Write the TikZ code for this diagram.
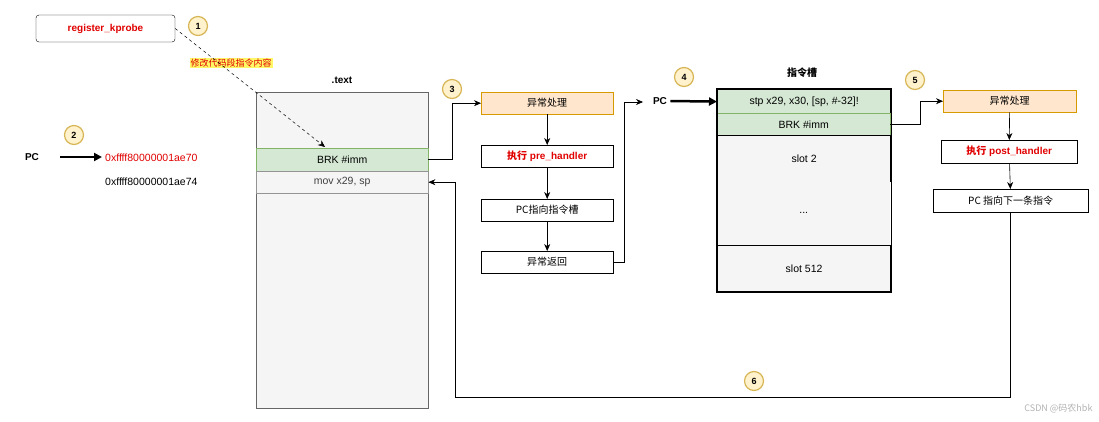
\documentclass[tikz,border=0pt]{standalone}
\usepackage{fontspec}
\setmainfont{Liberation Sans}
\newfontfamily\cjk{Noto Sans CJK SC}
\usetikzlibrary{arrows.meta}
\definecolor{grf}{HTML}{F5F5F5}
\definecolor{grd}{HTML}{666666}
\definecolor{gnf}{HTML}{D5E8D4}
\definecolor{gnd}{HTML}{82B366}
\definecolor{orf}{HTML}{FFE6CC}
\definecolor{ord}{HTML}{D79B00}
\definecolor{ylf}{HTML}{FFF2CC}
\definecolor{yld}{HTML}{D6B656}
\definecolor{rd}{HTML}{E00000}
\begin{document}
\begin{tikzpicture}[x=1pt,y=-1pt,font=\fontsize{10.5}{12}\selectfont,
  bx/.style={draw,minimum width=#1,minimum height=22,inner sep=0,anchor=north west},
  bx/.default=132,
  num/.style={circle,draw=yld,fill=ylf,line width=1.2pt,inner sep=0,minimum size=19,font=\bfseries\small},
  arr/.style={-{Stealth[length=7,width=6]},line width=0.6pt},
  fat/.style={-{Triangle[length=8,width=8]},line width=2.5pt}]
\useasboundingbox (0,0) rectangle (1099,422);
% kprobe
\node[draw,rounded corners=3,minimum width=139,minimum height=27,inner sep=0,font=\bfseries,text=rd] (kp) at (105.5,28.5) {register\_kprobe};
\node[num] (n1) at (198,26) {1};
\node[fill=yellow!60,text=rd,inner sep=1,font=\cjk\small] (lbl) at (231,63) {修改代码段指令内容};
% .text
\node[font=\bfseries] (tt) at (342,80) {.text};
\node[draw=grd,fill=grf,minimum width=172,minimum height=316,anchor=north west,inner sep=0] (text) at (256,92) {};
\node[bx=172,draw=gnd,fill=gnf,minimum height=23] (brk) at (256,148) {BRK \#imm};
\node[bx=172,draw=grd!70,fill=grf,text=black!75,minimum height=22] (mov) at (256,171) {mov x29, sp};
\coordinate (dtip) at (325,147);
\draw[dashed,arr,line width=0.5pt] (kp.east) -- (dtip);
% PC 1
\node[font=\bfseries] (pc1) at (32,157) {PC};
\coordinate (pa) at (60,157); \coordinate (pb) at (102,157);
\draw[fat] (pa) -- (pb);
\node[num] (n2) at (74,135) {2};
\node[text=rd,anchor=west,inner sep=0] (ad1) at (105,158) {0xffff80000001ae70};
\node[anchor=west,inner sep=0] (ad2) at (105,182) {0xffff80000001ae74};
% exception 1
\node[num] (n3) at (452,89) {3};
\node[bx,draw=ord,fill=orf,font=\cjk] (e1) at (481,92) {异常处理};
\node[bx,font=\bfseries,text=rd] (e2) at (481,145) {{\cjk 执行} pre\_handler};
\node[bx,font=\cjk] (e3) at (481,199) {PC指向指令槽};
\node[bx,font=\cjk] (e4) at (481,251) {异常返回};
\draw[arr] (brk.east) -- ++(24,0) |- (e1.west);
\draw[arr] (e1) -- (e2); \draw[arr] (e2) -- (e3); \draw[arr] (e3) -- (e4);
\coordinate (pc2in) at (643,102);
\draw[arr] (e4.east) -- ++(11,0) |- (pc2in);
\node[font=\bfseries] (pc2) at (660,101) {PC};
\node[num] (n4) at (684,77) {4};
% slots
\node[font=\cjk\bfseries] (st) at (802,73) {指令槽};
\node[bx=173,draw=black,line width=1.2pt,fill=gnf,minimum height=24] (s0) at (717,89) {stp x29, x30, [sp, \#-32]!};
\node[bx=173,draw=gnd,fill=gnf,minimum height=22] (s1) at (717,113) {BRK \#imm};
\node[bx=173,draw=black,line width=1.2pt,fill=grf,minimum height=46] (s2) at (717,135) {slot 2};
\node[bx=173,draw=none,fill=grf,minimum height=64] (s3) at (717,181) {...};
\node[bx=173,draw=black,line width=1.2pt,fill=grf,minimum height=46] (s4) at (717,245) {slot 512};
\draw[line width=1.2pt] (s0.north west) rectangle (s4.south east);
\draw[fat] (pc2.east) -- (s0.west);
% exception 2
\node[num] (n5) at (915,80) {5};
\node[bx=133,draw=ord,fill=orf,font=\cjk] (f1) at (943,90) {异常处理};
\node[bx=136,font=\bfseries,text=rd,minimum height=23] (f2) at (941,140) {{\cjk 执行} post\_handler};
\node[bx=155,font=\cjk,minimum height=23] (f3) at (933,189) {PC 指向下一条指令};
\draw[arr] (s1.east) -- ++(30,0) |- (f1.west);
\draw[arr] (f1) -- (f2); \draw[arr] (f2) -- (f3);
\coordinate (r1) at (1010,397); \coordinate (r2) at (455,397);
\draw[arr] (f3.south -| r1) -- (r1) -- (r2) |- (mov.east);
\node[num] (n6) at (754,381) {6};
\node[text=black!30,font=\cjk\small,anchor=east] (wm) at (1096,408) {CSDN @码农hbk};
\end{tikzpicture}
\end{document}
